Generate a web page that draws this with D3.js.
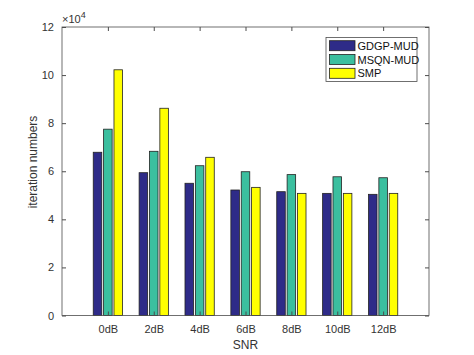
<!DOCTYPE html>
<html><head><meta charset="utf-8">
<script src="https://cdn.jsdelivr.net/npm/d3@7/dist/d3.min.js"></script>
<style>body{margin:0;background:#fff}svg{display:block}text{font-family:Arial,"Liberation Sans",sans-serif}</style>
</head><body><svg id="c" width="474" height="355"></svg>
<script>
const categories = ["0dB","2dB","4dB","6dB","8dB","10dB","12dB"];
const seriesNames = ["GDGP-MUD","MSQN-MUD","SMP"];
const gdgp = [6.79, 5.94, 5.50, 5.22, 5.15, 5.08, 5.04];
const msqn = [7.75, 6.83, 6.23, 5.98, 5.86, 5.77, 5.73];
const smp  = [10.22, 8.62, 6.58, 5.33, 5.08, 5.08, 5.08];
const yTicks = [0,2,4,6,8,10,12];
const colors = ["#2e2b88","#3bbf9f","#ffff00"];
const series = [gdgp, msqn, smp];

const svg = d3.select("#c");
const L=62, R=429, T=27, B=315.5;
const x = d3.scaleLinear().domain([0,8]).range([L,R]);
const y = d3.scaleLinear().domain([0,12]).range([B,T]);
const axisColor = "#4d4d4d";
const offsets = [-0.226, 0, 0.226];
const bw = 0.186;

// bars
series.forEach((vals,si)=>{
  svg.append("g").selectAll("rect").data(vals).join("rect")
    .attr("x",(d,i)=>x(i+1+offsets[si]-bw/2))
    .attr("width",x(bw)-x(0))
    .attr("y",d=>y(d))
    .attr("height",d=>y(0)-y(d))
    .attr("fill",colors[si])
    .attr("stroke","#222")
    .attr("stroke-width",0.8);
});

// axes box
const g = svg.append("g");
g.append("rect").attr("x",L).attr("y",T).attr("width",R-L).attr("height",B-T)
  .attr("fill","none").attr("stroke",axisColor).attr("stroke-width",0.8);

const yl = d3.axisLeft(y).tickValues(yTicks).tickSize(-4).tickPadding(8).tickFormat(d3.format("d"));
const yr = d3.axisRight(y).tickValues(yTicks).tickSize(-4).tickFormat("");
const xb = d3.axisBottom(x).tickValues(d3.range(1,8)).tickSize(-4).tickPadding(10).tickFormat(d=>categories[d-1]);
const xt = d3.axisTop(x).tickValues(d3.range(1,8)).tickSize(-4).tickFormat("");
function style(sel){sel.select(".domain").remove();sel.selectAll("line").attr("stroke",axisColor);sel.selectAll("text").attr("fill","#333").attr("font-size","11px").attr("font-family","Arial, 'Liberation Sans', sans-serif");}
g.append("g").attr("transform",`translate(${L},0)`).call(yl).call(style);
g.append("g").attr("transform",`translate(${R},0)`).call(yr).call(style);
g.append("g").attr("transform",`translate(0,${B})`).call(xb).call(style);
g.append("g").attr("transform",`translate(0,${T})`).call(xt).call(style);

// exponent
const ex = svg.append("text").attr("x",62).attr("y",23).attr("font-size","11px").attr("fill","#333");
ex.append("tspan").text("\u00d710");
ex.append("tspan").attr("dy",-5).attr("font-size","9px").text("4");

// axis labels
svg.append("text").attr("x",(L+R)/2).attr("y",349).attr("text-anchor","middle").attr("font-size","12px").attr("fill","#333").text("SNR");
svg.append("text").attr("transform","translate(37,162) rotate(-90)").attr("text-anchor","middle").attr("font-size","12px").attr("fill","#333").text("iteration numbers");

// legend
const lg = svg.append("g");
lg.append("rect").attr("x",326).attr("y",37.5).attr("width",91).attr("height",44).attr("fill","#fff").attr("stroke",axisColor).attr("stroke-width",0.8);
seriesNames.forEach((n,i)=>{
  const cy = 45.7 + i*13.8;
  lg.append("rect").attr("x",329.5).attr("y",cy-5).attr("width",25.5).attr("height",10).attr("fill",colors[i]).attr("stroke","#222").attr("stroke-width",0.8);
  lg.append("text").attr("x",357.5).attr("y",cy+4).attr("font-size","11px").attr("fill","#111").text(n);
});
</script></body></html>
